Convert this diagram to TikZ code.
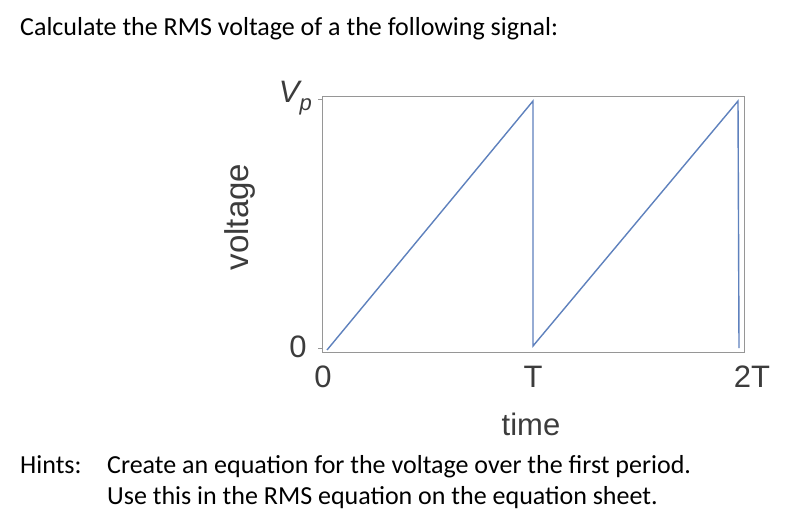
\documentclass[tikz,border=0pt]{standalone}
\usepackage{fontspec}
\setmainfont{Carlito}
\newfontfamily\arial{Liberation Sans}
\definecolor{sig}{RGB}{94,129,189}
\definecolor{fr}{RGB}{150,150,150}
\definecolor{lab}{RGB}{60,60,60}
\begin{document}
\begin{tikzpicture}[x=1pt,y=-1pt,
  lbl/.style={font=\arial\fontsize{31}{33}\selectfont,text=lab,inner sep=0},
  txt/.style={font=\fontsize{26}{28}\selectfont,anchor=base west,inner sep=0}]
\useasboundingbox[fill=white] (0,0) rectangle (808,532);
\node[txt] (title) at (20,36) {Calculate the RMS voltage of a the following signal:};
\draw[fr,line width=0.8] (322,96) rectangle (744,352);
\draw[fr] (322,99)--(318,99) (322,348)--(318,348);
\coordinate (a) at (327,350); \coordinate (b) at (533,101);
\coordinate (c) at (533,346); \coordinate (d) at (738,101); \coordinate (e) at (739,348);
\draw[sig,line width=1.4] (a)--(b)--(c)--(d)--(e);
\node[lbl,anchor=east] (vp) at (312,98) {\itshape V\raisebox{-0.25em}{\fontsize{22}{24}\selectfont p}};
\node[lbl] (y0) at (298,347) {0};
\node[lbl] (x0) at (323,377) {0};
\node[lbl] (xT) at (533,377) {T};
\node[lbl] (x2T) at (752,377) {2T};
\node[lbl,rotate=90,font=\arial\fontsize{33}{35}\selectfont] (ylab) at (240,217) {voltage};
\node[lbl] (xlab) at (531,424) {time};
\node[txt] (h1) at (20,473) {Hints:};
\node[txt] (h2) at (107,473) {Create an equation for the voltage over the first period.};
\node[txt] (h3) at (107,504) {Use this in the RMS equation on the equation sheet.};
\end{tikzpicture}
\end{document}
